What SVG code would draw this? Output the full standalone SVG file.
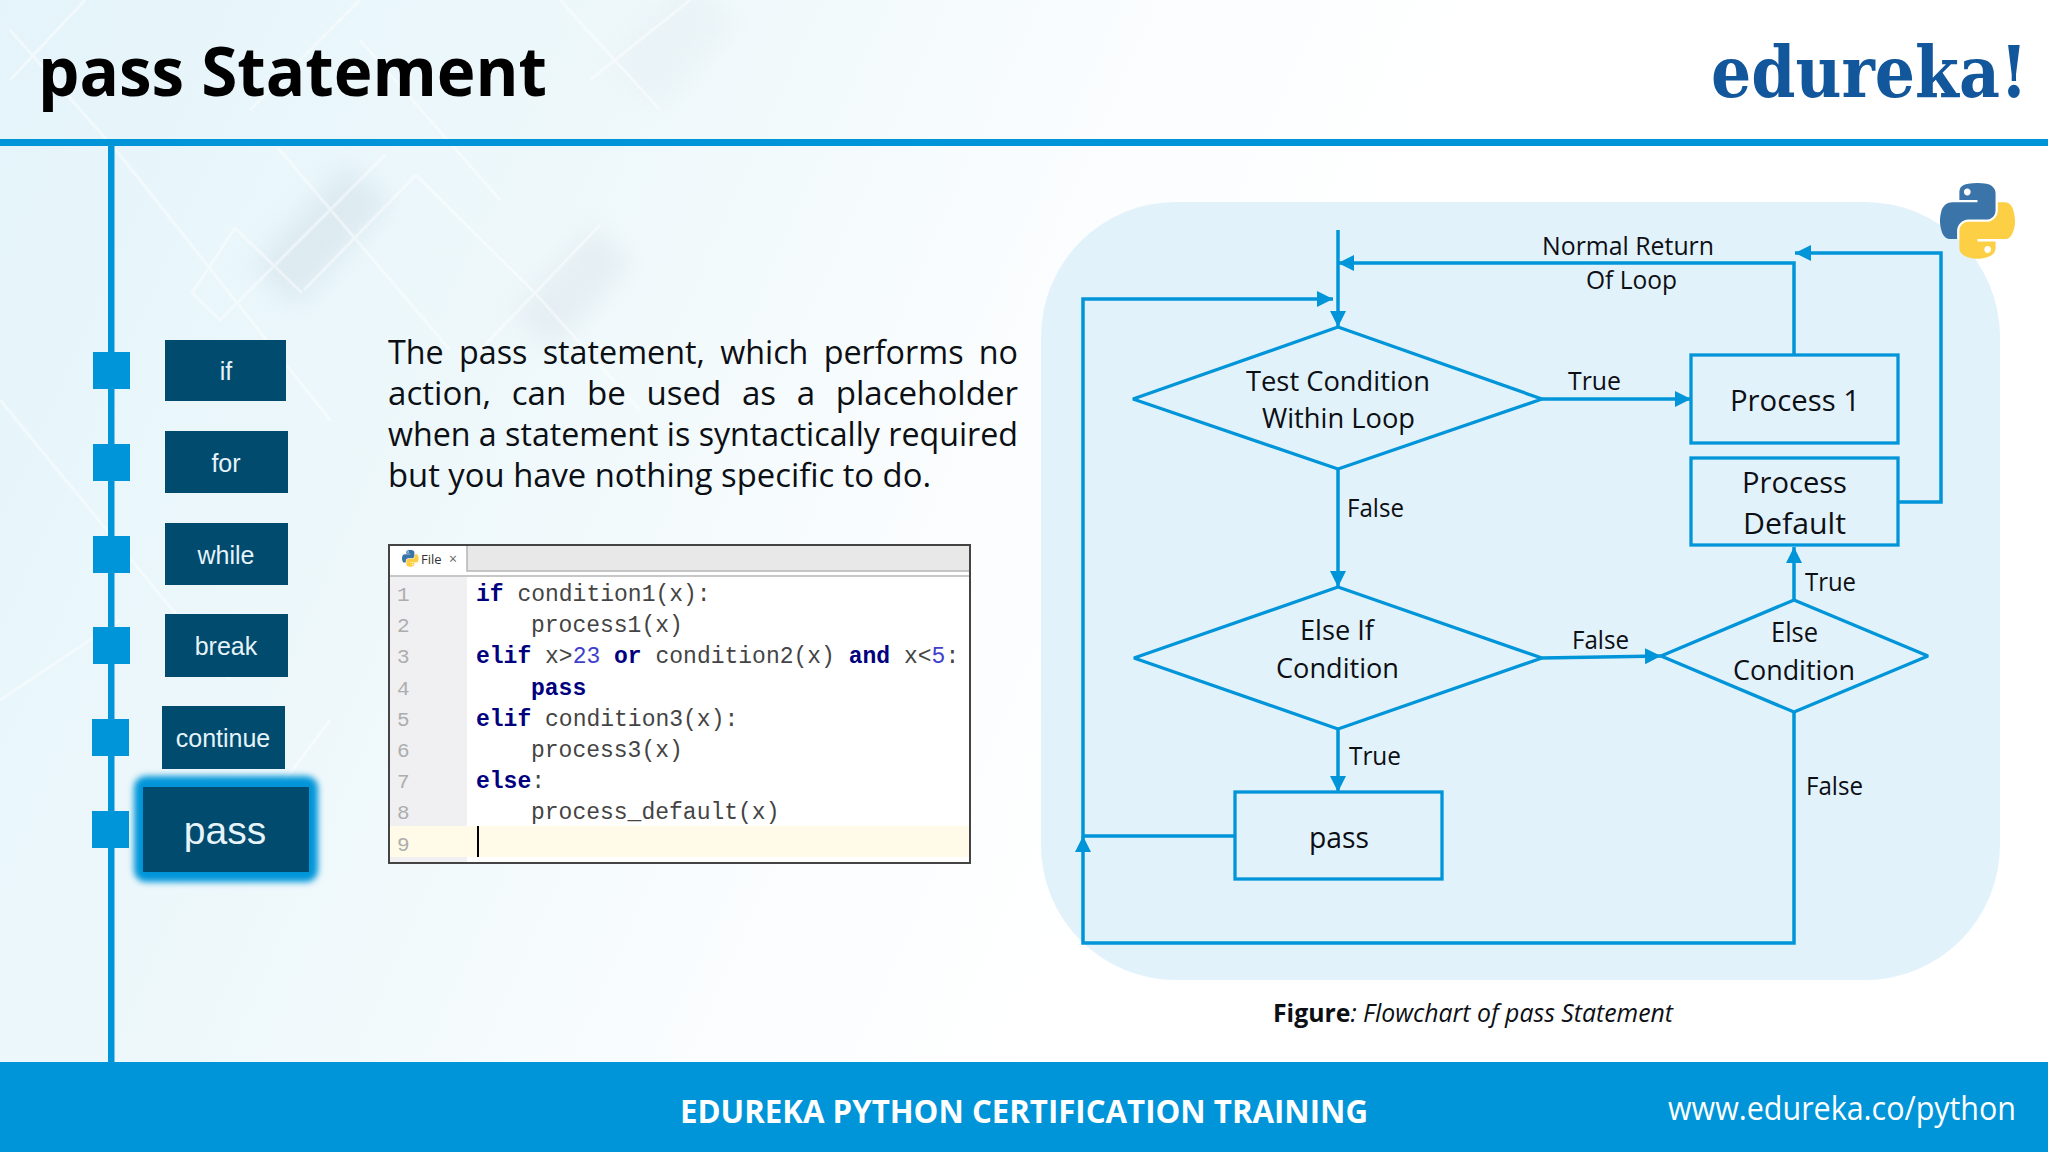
<svg xmlns="http://www.w3.org/2000/svg" xmlns:xlink="http://www.w3.org/1999/xlink" width="2048" height="1152" viewBox="0 0 2048 1152">
<style>
text{font-family:"Open Sans","Noto Sans",sans-serif;fill:#0c0f14}
.c{stroke:#0095d9;stroke-width:3.5;fill:none}
.n{stroke:#0095d9;stroke-width:3.3;fill:none;stroke-linejoin:bevel}
.r{stroke:#0095d9;stroke-width:3.3;fill:none}
.l{font-size:26px}
.b{font-size:30px;text-anchor:start}
.p{font-size:33px}
.m{font-family:"Liberation Sans",Arial,sans-serif;fill:#e6f3f9;font-size:25px;text-anchor:middle}
.box{fill:#004b6e}
.sq{fill:#0095d9}
.code{font-family:"Liberation Mono","Courier New",monospace;font-size:23px;fill:#444}
.k{font-weight:700;fill:#00007f}
.d{fill:#4040cc}
.g{font-family:"Liberation Mono",monospace;font-size:21px;fill:#adadad}
.w{stroke:#fff;stroke-width:3;fill:none;opacity:.45}
</style>
<defs>
<linearGradient id="bg" x1="0" y1="0" x2="1" y2="0.25"><stop offset="0" stop-color="#e4f4fa"/><stop offset=".3" stop-color="#eef8fb"/><stop offset=".55" stop-color="#fbfdfe"/><stop offset=".7" stop-color="#fff"/></linearGradient>
<filter id="bl" x="-50%" y="-50%" width="200%" height="200%"><feGaussianBlur stdDeviation="12"/></filter>
<filter id="gl" x="-20%" y="-20%" width="140%" height="140%"><feGaussianBlur stdDeviation="3"/></filter>
<marker id="a" markerUnits="userSpaceOnUse" viewBox="0 0 16 16" refX="16" refY="8" markerWidth="16" markerHeight="16" orient="auto"><path d="M0 0L16 8L0 16z" fill="#0095d9"/></marker>
<g id="py">
<path fill="#3b74a8" d="M54.919 0.001c-4.584.022-8.961.413-12.813 1.095C30.76 3.099 28.7 7.295 28.7 15.032v10.219h26.813v3.406H18.638c-7.792 0-14.616 4.684-16.75 13.594-2.462 10.213-2.571 16.586 0 27.25 1.906 7.938 6.458 13.594 14.25 13.594h9.219v-12.25c0-8.85 7.657-16.656 16.75-16.656h26.781c7.455 0 13.406-6.138 13.406-13.625v-25.531c0-7.266-6.13-12.725-13.406-13.937C64.282.328 59.502-.02 54.918.002zm-14.5 8.218c2.77 0 5.031 2.299 5.031 5.125 0 2.816-2.262 5.094-5.031 5.094-2.78 0-5.031-2.278-5.031-5.094 0-2.826 2.252-5.125 5.031-5.125z"/>
<path fill="#fdcf45" d="M85.638 28.657v11.906c0 9.231-7.826 17-16.75 17H42.106c-7.336 0-13.406 6.278-13.406 13.625v25.531c0 7.266 6.319 11.54 13.406 13.625 8.487 2.496 16.626 2.947 26.781 0 6.75-1.954 13.406-5.888 13.406-13.625V86.501H55.513v-3.406h40.188c7.792 0 10.696-5.435 13.406-13.594 2.799-8.399 2.68-16.476 0-27.25-1.926-7.757-5.604-13.594-13.406-13.594zm-15.063 64.656c2.78 0 5.031 2.278 5.031 5.094 0 2.826-2.252 5.125-5.031 5.125-2.77 0-5.031-2.299-5.031-5.125 0-2.816 2.262-5.094 5.031-5.094z"/>
</g>
</defs>
<g id="background">
<rect width="2048" height="1152" fill="url(#bg)"/>
<rect x="-30" y="-70" width="60" height="140" transform="translate(322 235) rotate(42)" fill="#c9d9e2" opacity=".4" filter="url(#bl)"/>
<rect x="-30" y="-60" width="55" height="120" transform="translate(575 290) rotate(42)" fill="#cfdbe2" opacity=".3" filter="url(#bl)"/>
<rect x="-30" y="-60" width="70" height="120" transform="translate(670 40) rotate(42)" fill="#d5e0e6" opacity=".18" filter="url(#bl)"/>
<path class="w" d="M278 148L450 350M385 155L220 320L192 293L235 228L302 293M416 175L304 290M416 175L535 293L640 410M600 225L535 293L480 350M10 30L120 155L330 420M85 0L10 80M250 110L360 0M360 40L500 200M690 0L590 80M560 0L660 110M0 400L230 680M0 700L120 620M270 800L330 720"/>
</g>
<g id="header">
<text x="38" y="96" font-size="68" font-weight="700" textLength="509" lengthAdjust="spacingAndGlyphs" style="fill:#000">pass Statement</text>
<text transform="translate(1711 97) scale(.87 1)" x="0" y="0" font-size="71" font-weight="700" textLength="364" lengthAdjust="spacingAndGlyphs" style="font-family:'DejaVu Serif',serif;fill:#12579c">edureka!</text>
<rect x="0" y="139" width="2048" height="7" fill="#0095d9"/>
</g>
<g id="timeline">
<rect x="108" y="146" width="6.5" height="920" fill="#0095d9"/>
</g>
<g id="node-if"><rect class="sq" x="93" y="352" width="37" height="37"/><rect class="box" x="165" y="340" width="121" height="61"/><text class="m" x="226" y="380">if</text></g>
<g id="node-for"><rect class="sq" x="93" y="444" width="37" height="37"/><rect class="box" x="165" y="431" width="123" height="62"/><text class="m" x="226" y="472">for</text></g>
<g id="node-while"><rect class="sq" x="93" y="536" width="37" height="37"/><rect class="box" x="165" y="523" width="123" height="62"/><text class="m" x="226" y="564">while</text></g>
<g id="node-break"><rect class="sq" x="93" y="627" width="37" height="37"/><rect class="box" x="165" y="614" width="123" height="63"/><text class="m" x="226" y="655">break</text></g>
<g id="node-continue"><rect class="sq" x="92" y="719" width="37" height="37"/><rect class="box" x="162" y="706" width="123" height="63"/><text class="m" x="223" y="747">continue</text></g>
<g id="node-pass-menu"><rect class="sq" x="92" y="811" width="37" height="37"/><rect x="134" y="776" width="184" height="106" rx="12" fill="#0095d9" filter="url(#gl)"/><rect class="box" x="143" y="787" width="166" height="85"/><text class="m" x="225" y="844" style="font-size:39px">pass</text></g>
<g id="description">
<text class="p" x="388" y="364" word-spacing="7" textLength="630" lengthAdjust="spacingAndGlyphs">The pass statement, which performs no</text>
<text class="p" x="388" y="405" word-spacing="12" textLength="630" lengthAdjust="spacingAndGlyphs">action, can be used as a placeholder</text>
<text class="p" x="388" y="446" textLength="630" lengthAdjust="spacingAndGlyphs">when a statement is syntactically required</text>
<text class="p" x="388" y="487" textLength="543" lengthAdjust="spacingAndGlyphs">but you have nothing specific to do.</text>
</g>
<g id="code-window">
<rect x="389" y="545" width="581" height="318" fill="#fff"/>
<rect x="467" y="546" width="503" height="25" fill="#e8e8e8"/>
<path d="M467 546V571H970M389 576H970" stroke="#b5b5b5" stroke-width="1.5" fill="none"/>
<rect x="389" y="577" width="78" height="285" fill="#f0f0f2"/>
<rect x="389" y="826" width="581" height="31" fill="#fffbe8"/>
<use xlink:href="#py" href="#py" transform="translate(402 550) scale(.15)"/>
<text x="421" y="564" font-size="13" style="fill:#333">File</text>
<text x="449" y="564" font-size="14" style="fill:#666">×</text>
<rect x="389" y="545" width="581" height="318" fill="none" stroke="#444" stroke-width="2"/>
<text class="g" x="397" y="601">1</text><text class="g" x="397" y="632">2</text><text class="g" x="397" y="663">3</text><text class="g" x="397" y="695">4</text><text class="g" x="397" y="726">5</text><text class="g" x="397" y="757">6</text><text class="g" x="397" y="788">7</text><text class="g" x="397" y="819">8</text><text class="g" x="397" y="851">9</text>
<text class="code" x="476" y="601"><tspan class="k">if</tspan> condition1(x):</text>
<text class="code" x="531" y="632">process1(x)</text>
<text class="code" x="476" y="663"><tspan class="k">elif</tspan> x&gt;<tspan class="d">23</tspan> <tspan class="k">or</tspan> condition2(x) <tspan class="k">and</tspan> x&lt;<tspan class="d">5</tspan>:</text>
<text class="code k" x="531" y="695">pass</text>
<text class="code" x="476" y="726"><tspan class="k">elif</tspan> condition3(x):</text>
<text class="code" x="531" y="757">process3(x)</text>
<text class="code" x="476" y="788"><tspan class="k">else</tspan>:</text>
<text class="code" x="531" y="819">process_default(x)</text>
<rect x="477" y="826" width="2" height="31" fill="#000"/>
</g>
<g id="panel"><rect x="1041" y="202" width="959" height="778" rx="135" fill="#e2f2fb"/></g>
<use id="python-logo" xlink:href="#py" href="#py" transform="translate(1940 183) scale(.675)"/>
<g id="connectors">
<path class="c" d="M1338 230V327" marker-end="url(#a)"/>
<path class="c" d="M1794 355V263H1338" marker-end="url(#a)"/>
<path class="c" d="M1898 502H1941V253H1795" marker-end="url(#a)"/>
<path class="c" d="M1542 399H1691" marker-end="url(#a)"/>
<path class="c" d="M1338 470V587" marker-end="url(#a)"/>
<path class="c" d="M1542 658L1661 656" marker-end="url(#a)"/>
<path class="c" d="M1794 600V547" marker-end="url(#a)"/>
<path class="c" d="M1338 729V792" marker-end="url(#a)"/>
<path class="c" d="M1794 712V943H1083V836" marker-end="url(#a)"/>
<path class="c" d="M1235 836H1083V299H1333" marker-end="url(#a)"/>
</g>
<g id="label-normal-return"><text class="l" x="1542" y="255" textLength="172" lengthAdjust="spacingAndGlyphs">Normal Return</text><text class="l" x="1586" y="289" textLength="91" lengthAdjust="spacingAndGlyphs">Of Loop</text></g>
<g id="node-test"><polygon class="n" points="1133,399 1338,327 1542,399 1338,469"/><text class="l" x="1246" y="391" style="font-size:28px" textLength="184" lengthAdjust="spacingAndGlyphs">Test Condition</text><text class="l" x="1262" y="428" style="font-size:28px" textLength="153" lengthAdjust="spacingAndGlyphs">Within Loop</text></g>
<g id="node-process1"><rect class="r" x="1691" y="355" width="207" height="88"/><text class="b" x="1730" y="411" textLength="130" lengthAdjust="spacingAndGlyphs">Process 1</text></g>
<g id="node-default"><rect class="r" x="1691" y="458" width="207" height="87"/><text class="b" x="1742" y="493" textLength="105" lengthAdjust="spacingAndGlyphs">Process</text><text class="b" x="1743" y="534" textLength="103" lengthAdjust="spacingAndGlyphs">Default</text></g>
<g id="node-elseif"><polygon class="n" points="1134,658 1338,587 1542,658 1338,729"/><text class="l" x="1300" y="640" style="font-size:28px" textLength="74" lengthAdjust="spacingAndGlyphs">Else If</text><text class="l" x="1276" y="678" style="font-size:28px" textLength="123" lengthAdjust="spacingAndGlyphs">Condition</text></g>
<g id="node-else"><polygon class="n" points="1661,656 1794,600 1928,656 1794,712"/><text class="l" x="1771" y="642" style="font-size:28px" textLength="47" lengthAdjust="spacingAndGlyphs">Else</text><text class="l" x="1733" y="680" style="font-size:28px" textLength="122" lengthAdjust="spacingAndGlyphs">Condition</text></g>
<g id="node-pass"><rect class="r" x="1235" y="792" width="207" height="87"/><text class="b" x="1309" y="848" textLength="60" lengthAdjust="spacingAndGlyphs">pass</text></g>
<g id="edge-labels">
<text class="l" x="1568" y="390" textLength="53" lengthAdjust="spacingAndGlyphs">True</text>
<text class="l" x="1347" y="517" textLength="57" lengthAdjust="spacingAndGlyphs">False</text>
<text class="l" x="1572" y="649" textLength="57" lengthAdjust="spacingAndGlyphs">False</text>
<text class="l" x="1805" y="591" textLength="51" lengthAdjust="spacingAndGlyphs">True</text>
<text class="l" x="1349" y="765" textLength="52" lengthAdjust="spacingAndGlyphs">True</text>
<text class="l" x="1806" y="795" textLength="57" lengthAdjust="spacingAndGlyphs">False</text>
</g>
<text id="caption" x="1273" y="1022" font-size="25" textLength="400" lengthAdjust="spacingAndGlyphs"><tspan font-weight="700">Figure</tspan><tspan font-style="italic">: Flowchart of pass Statement</tspan></text>
<g id="footer">
<rect x="0" y="1062" width="2048" height="90" fill="#0095d9"/>
<text x="680" y="1123" font-size="33" font-weight="700" textLength="688" lengthAdjust="spacingAndGlyphs" style="fill:#fff">EDUREKA PYTHON CERTIFICATION TRAINING</text>
<text x="1668" y="1120" font-size="33" textLength="348" lengthAdjust="spacingAndGlyphs" style="fill:#fff">www.edureka.co/python</text>
</g>
</svg>
